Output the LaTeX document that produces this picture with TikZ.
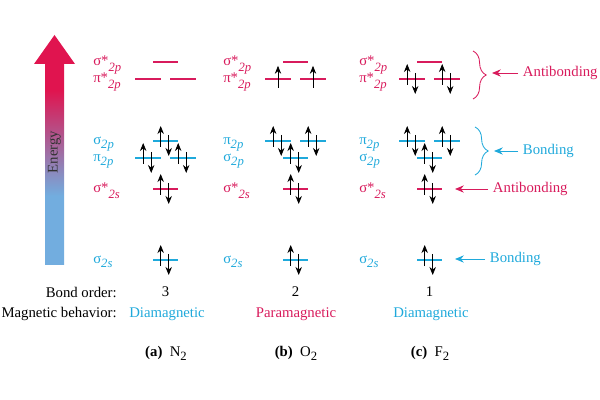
\documentclass[tikz,border=0pt]{standalone}
\usepackage{xcolor}
\usepackage{fontspec}
\setmainfont{Liberation Serif}
\usetikzlibrary{arrows.meta, decorations.pathreplacing, positioning}
\definecolor{mopink}{HTML}{D81B5C}
\definecolor{mocyan}{HTML}{1FA9DB}
\definecolor{mored}{HTML}{E0144F}
\definecolor{moblue}{HTML}{72ADDF}
\pgfdeclareverticalshading{energyshade}{100bp}{color(0bp)=(moblue); color(40bp)=(moblue); color(63bp)=(mored); color(100bp)=(mored)}
% orbital labels: bonding and starred
\newcommand{\mob}[2]{#1\raisebox{-0.55ex}{\small\itshape #2}}
\newcommand{\moa}[2]{#1\raisebox{0.1ex}{*}\raisebox{-0.8ex}{\small\itshape #2}}

\begin{document}
\begin{tikzpicture}[
    x=0.025cm, y=-0.025cm,
    font=\fontsize{10.5}{12}\selectfont,
    lvlA/.style={rectangle, fill=mopink, inner sep=0pt, minimum width=0.625cm, minimum height=0.055cm},
    lvlB/.style={lvlA, fill=mocyan},
    elec/.style={-{Stealth[length=2mm, width=1.6mm]}, line width=0.55pt, black},
    labA/.style={anchor=base west, inner sep=0pt, text=mopink},
    labB/.style={labA, text=mocyan},
    brc/.style={decorate, decoration={brace, amplitude=0.33cm}, line width=0.6pt},
    parr/.style={-{Stealth[length=2.2mm, width=1.8mm]}, line width=0.7pt}
]
\useasboundingbox (0,0) rectangle (600,400);

% energy arrow
\shade[shading=energyshade] (45,265) -- (45,64) -- (34,64) -- (54.5,35) -- (75,64) -- (64,64) -- (64,265) -- cycle;
\node[rotate=90, text=black!80] (energy) at (54.5,152) {Energy};

% (a) N2
\node[lvlA] (aSa) at (165.5,62) {};
\node[lvlA] (aPa1) at (148,79) {};
\node[lvlA] (aPa2) at (183,79) {};
\node[lvlB] (aSb) at (165.5,141) {};
\node[lvlB] (aPb1) at (148,158) {};
\node[lvlB] (aPb2) at (183,158) {};
\node[lvlA] (aSsa) at (165.5,189) {};
\node[lvlB] (aSsb) at (165.5,260) {};
\node[labA] (aLSa) at (93,66) {\moa{σ}{2p}};
\node[labA] (aLPa) at (93,83) {\moa{π}{2p}};
\node[labB] (aLSb) at (93,145) {\mob{σ}{2p}};
\node[labB] (aLPb) at (93,162) {\mob{π}{2p}};
\node[labA] (aLSsa) at (93,193) {\moa{σ}{2s}};
\node[labB] (aLSsb) at (93,264) {\mob{σ}{2s}};

% (b) O2
\node[lvlA] (bSa) at (295.5,62) {};
\node[lvlA] (bPa1) at (278,79) {};
\node[lvlA] (bPa2) at (313,79) {};
\node[lvlB] (bPb1) at (278,141) {};
\node[lvlB] (bPb2) at (313,141) {};
\node[lvlB] (bSb) at (295.5,158) {};
\node[lvlA] (bSsa) at (295.5,189) {};
\node[lvlB] (bSsb) at (295.5,260) {};
\node[labA] (bLSa) at (223,66) {\moa{σ}{2p}};
\node[labA] (bLPa) at (223,83) {\moa{π}{2p}};
\node[labB] (bLPb) at (223,145) {\mob{π}{2p}};
\node[labB] (bLSb) at (223,162) {\mob{σ}{2p}};
\node[labA] (bLSsa) at (223,193) {\moa{σ}{2s}};
\node[labB] (bLSsb) at (223,264) {\mob{σ}{2s}};

% (c) F2
\node[lvlA] (cSa) at (429.5,62) {};
\node[lvlA] (cPa1) at (412,79) {};
\node[lvlA] (cPa2) at (447,79) {};
\node[lvlB] (cPb1) at (412,141) {};
\node[lvlB] (cPb2) at (447,141) {};
\node[lvlB] (cSb) at (429.5,158) {};
\node[lvlA] (cSsa) at (429.5,189) {};
\node[lvlB] (cSsb) at (429.5,260) {};
\node[labA] (cLSa) at (359,66) {\moa{σ}{2p}};
\node[labA] (cLPa) at (359,83) {\moa{π}{2p}};
\node[labB] (cLPb) at (359,145) {\mob{π}{2p}};
\node[labB] (cLSb) at (359,162) {\mob{σ}{2p}};
\node[labA] (cLSsa) at (359,193) {\moa{σ}{2s}};
\node[labB] (cLSsb) at (359,264) {\mob{σ}{2s}};

% electrons
\foreach \n in {aSb,aPb1,aPb2,aSsa,aSsb,bPb1,bPb2,bSb,bSsa,bSsb,cPa1,cPa2,cPb1,cPb2,cSb,cSsa,cSsb} {
  \draw[elec] ([xshift=-0.12cm, yshift=-0.15cm]\n.center) -- ++(0,-21);
  \draw[elec] ([xshift=0.08cm, yshift=0.15cm]\n.center) -- ++(0,21);
}
\foreach \n in {bPa1,bPa2}
  \draw[elec] ([yshift=-0.22cm]\n.center) -- ++(0,-22);

% right side
\draw[brc, mopink] (473,51) -- (473,99);
\draw[brc, mocyan] (475,127) -- (475,175);
\coordinate (tipA) at (492,73);
\coordinate (tipB) at (494,151);
\coordinate (tipC) at (455,189);
\coordinate (tipD) at (455,259);
\node[anchor=west, text=mopink] (antiA) at (518,73) {Antibonding};
\node[anchor=west, text=mocyan] (bondA) at (518,151) {Bonding};
\node[anchor=west, text=mopink] (antiB) at (488,189) {Antibonding};
\node[anchor=west, text=mocyan] (bondB) at (485,259) {Bonding};
\draw[parr, mopink] (antiA.west) -- (tipA);
\draw[parr, mocyan] (bondA.west) -- (tipB);
\draw[parr, mopink] (antiB.west) -- (tipC);
\draw[parr, mocyan] (bondB.west) -- (tipD);

% bottom rows
\node[anchor=east, inner sep=0pt] (bo) at (117,292) {Bond order:};
\node[anchor=east, inner sep=0pt] (mag) at (117,314) {Magnetic behavior:};
\node (boA) at (165.5,292) {3};
\node (boB) at (295.5,292) {2};
\node (boC) at (429.5,292) {1};
\node[text=mocyan] (magA) at (167,314) {Diamagnetic};
\node[text=mopink] (magB) at (296,314) {Paramagnetic};
\node[text=mocyan] (magC) at (431,314) {Diamagnetic};
\node (capA) at (166,353) {\textbf{(a)}\enspace N\raisebox{-0.6ex}{\small 2}};
\node (capB) at (296,353) {\textbf{(b)}\enspace O\raisebox{-0.6ex}{\small 2}};
\node (capC) at (430,353) {\textbf{(c)}\enspace F\raisebox{-0.6ex}{\small 2}};
\end{tikzpicture}
\end{document}
